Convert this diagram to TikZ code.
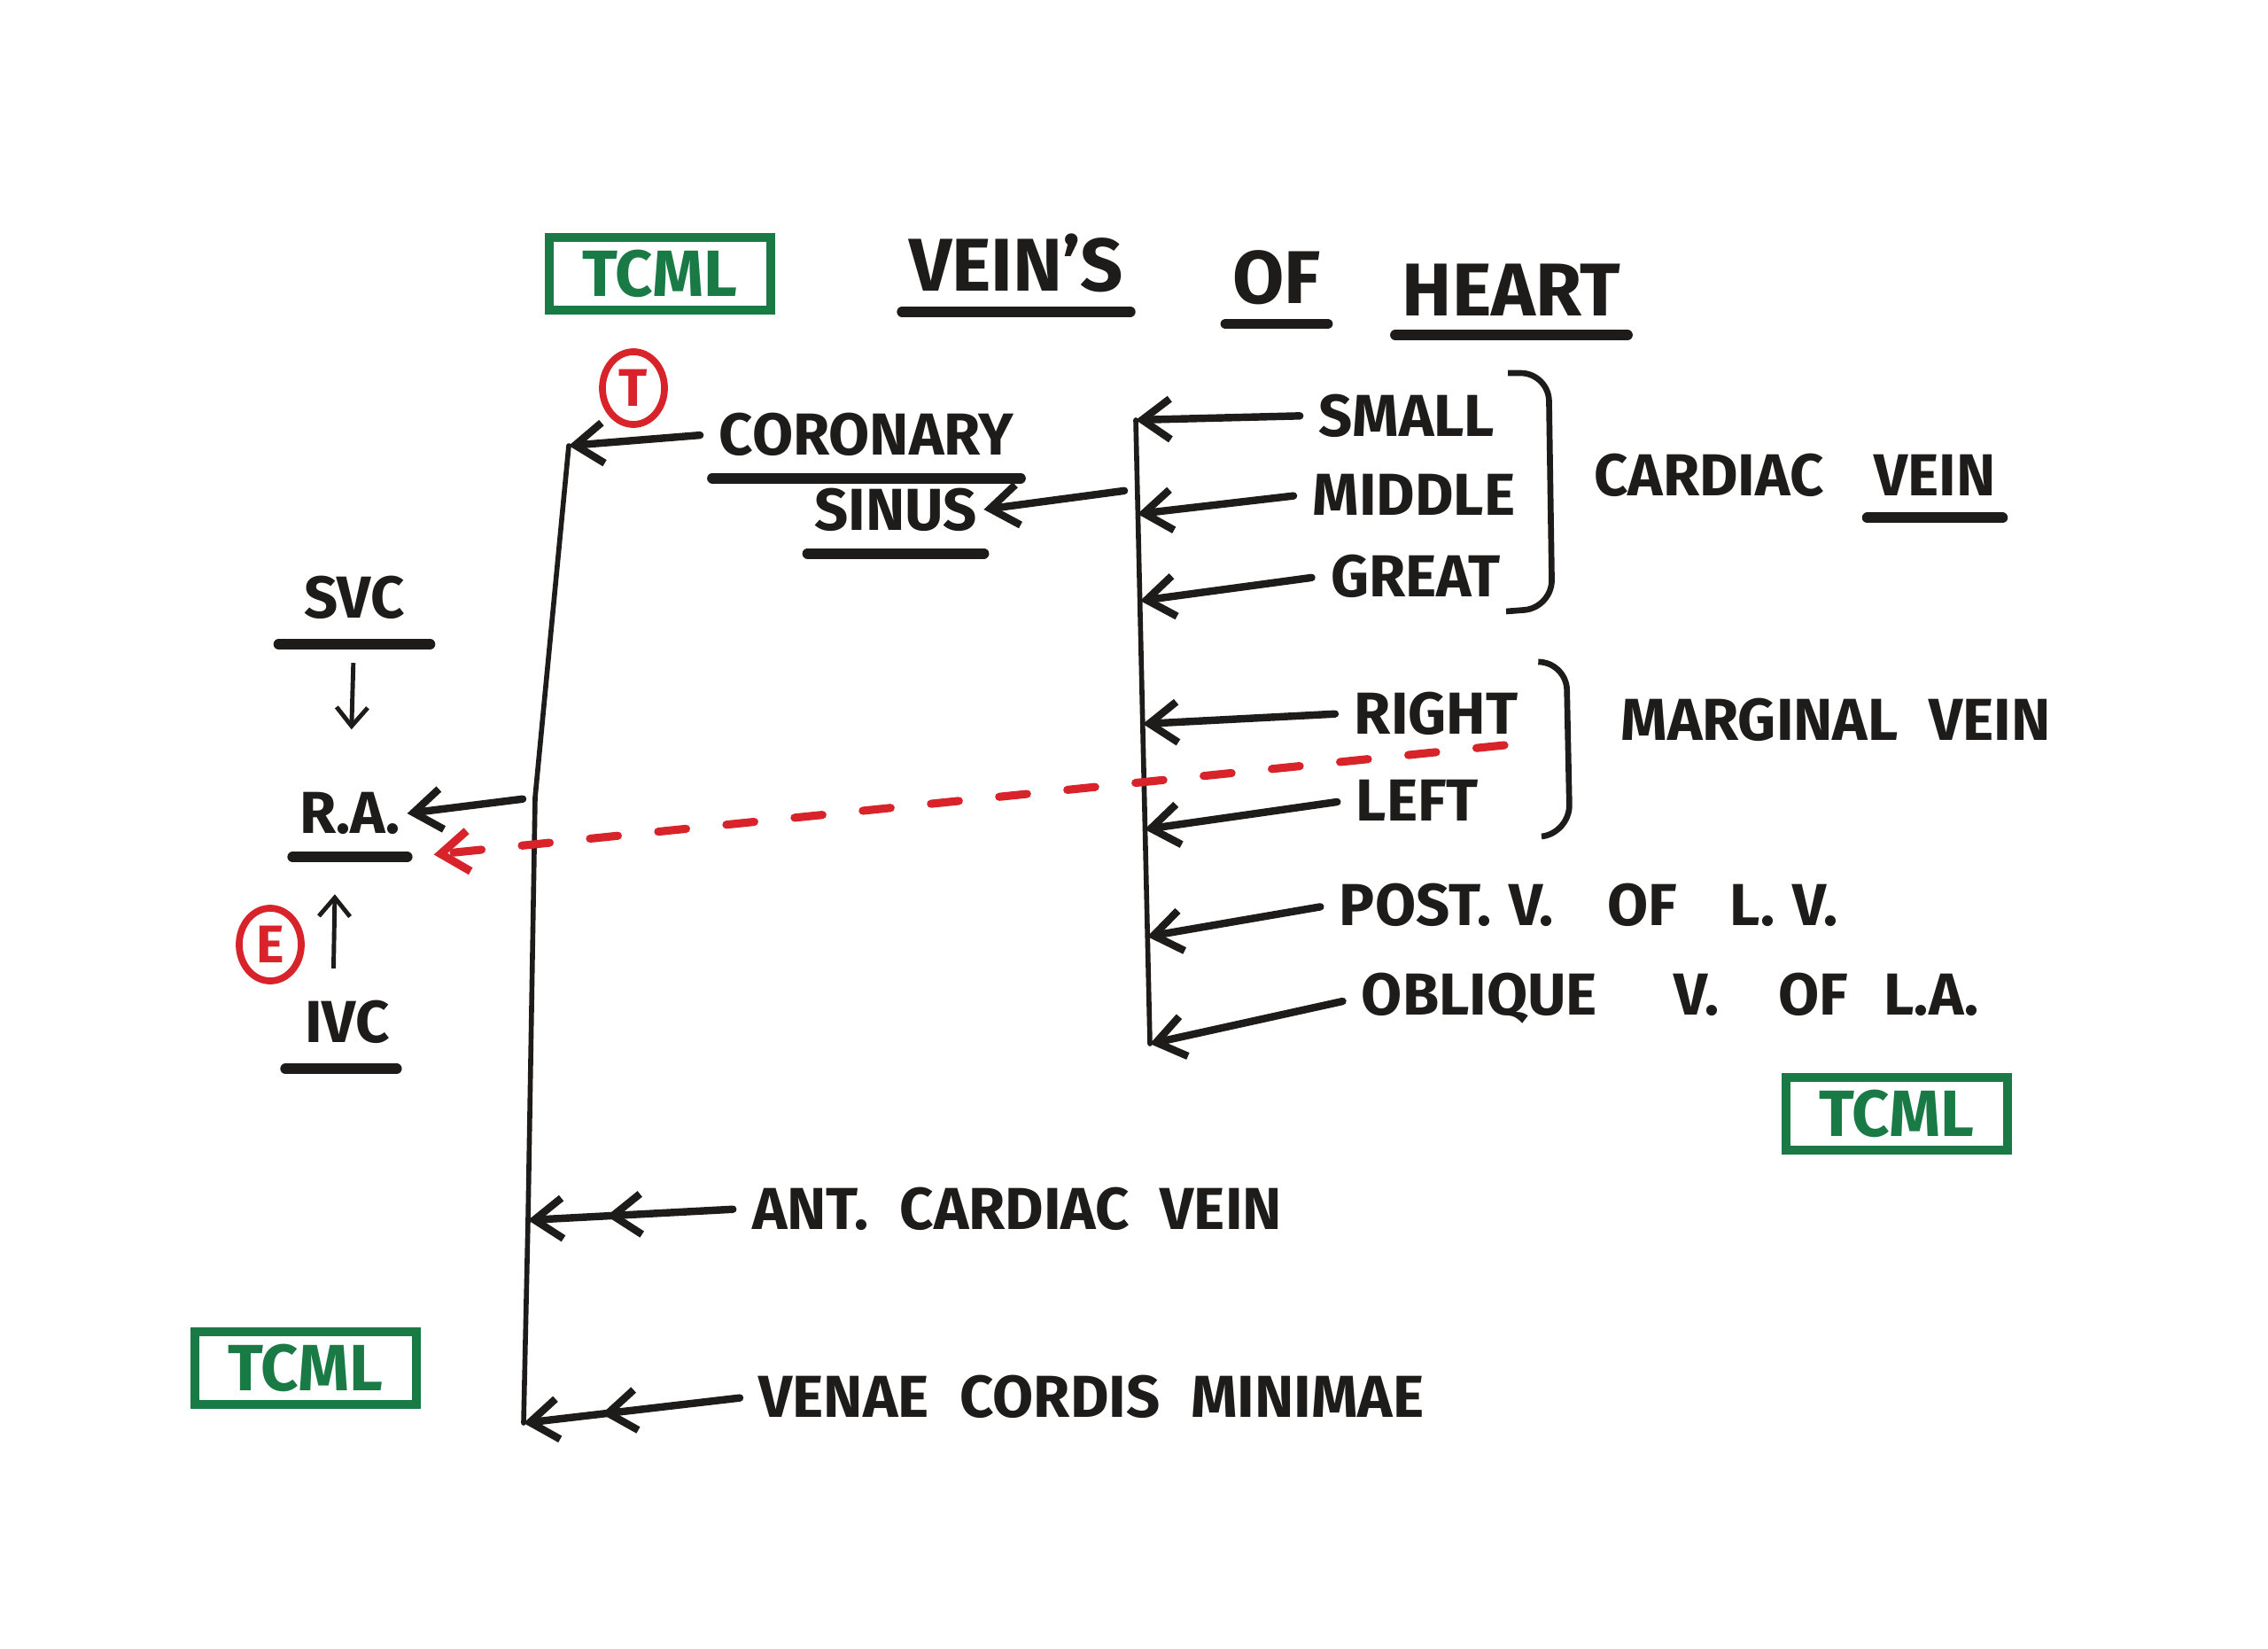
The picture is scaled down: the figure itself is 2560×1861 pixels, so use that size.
\documentclass[tikz,border=0pt]{standalone}
\usepackage{fontspec}
\setmainfont{Fira Sans}[WordSpace=2.2]
\usetikzlibrary{arrows.meta,shapes.geometric}
\definecolor{ink}{HTML}{1E1B1B}
\definecolor{tgreen}{HTML}{1A7A45}
\definecolor{tred}{HTML}{D8232A}

\begin{document}
\begin{tikzpicture}[x=0.01cm,y=-0.01cm,>={Straight Barb[length=9pt,width=13pt]},
  font=\fontsize{19}{23}\selectfont\bfseries,
  every node/.style={text=ink,inner sep=2pt},
  vein/.style={->,ink,line width=2.4pt,line cap=round,shorten <=4pt},
  dblvein/.style={ink,line width=2.4pt,line cap=round,shorten <=4pt,
    -{Straight Barb[length=9pt,width=13pt,sep=13pt]Straight Barb[length=9pt,width=13pt]}},
  trunk/.style={ink,line width=1.6pt,line cap=round},
  uline/.style={ink,line width=3.4pt,line cap=round},
  brk/.style={ink,line width=1.9pt,rounded corners=9pt},
  tcml/.style={draw=tgreen,line width=3pt,text=tgreen,minimum width=2.5cm,minimum height=0.82cm,
    font=\fontsize{21}{25}\selectfont\bfseries},
  ringed/.style={ellipse,draw=tred,line width=2.2pt,text=tred,inner sep=0pt,
    minimum width=0.7cm,minimum height=0.82cm,font=\fontsize{17}{20}\selectfont\bfseries},
  thinarr/.style={->,ink,line width=1.4pt,>={Straight Barb[length=6pt,width=10pt]}},
  reddash/.style={->,tred,line width=2.6pt,line cap=round,dash pattern=on 9pt off 13pt}]
  \useasboundingbox (0,0) rectangle (2560,1861);

  % title and stamps
  \node (veins) at (1147,297) {\fontsize{24}{29}\selectfont VEIN'S};
  \node (of) at (1441,313) {\fontsize{24}{29}\selectfont OF};
  \node (heart) at (1706,327) {\fontsize{24}{29}\selectfont HEART};
  \draw[uline] ([yshift=-4pt]veins.south west) -- ([yshift=-4pt]veins.south east);
  \draw[uline] ([yshift=-4pt]of.south west) -- ([yshift=-4pt]of.south east);
  \draw[uline] ([yshift=-4pt]heart.south west) -- ([yshift=-4pt]heart.south east);
  \node[tcml] (tcml1) at (745,309) {TCML};
  \node[tcml] (tcml2) at (2141,1257) {TCML};
  \node[tcml] (tcml3) at (345,1544) {TCML};

  % trunks
  \coordinate (lt) at (642,503);
  \coordinate (lra) at (604,900);
  \coordinate (lant) at (596,1377);
  \coordinate (lb) at (591,1606);
  \draw[trunk] (lt) -- (lra) -- (lant) -- (lb);
  \coordinate (rt) at (1282,474);
  \coordinate (rcs) at (1283,552);
  \coordinate (rmid) at (1284,580);
  \coordinate (rgreat) at (1287,678);
  \coordinate (rright) at (1290,817);
  \coordinate (rleft) at (1292,936);
  \coordinate (rpost) at (1295,1057);
  \coordinate (rb) at (1298,1178);
  \draw[trunk] (rt) -- (rb);

  % coronary sinus
  \node[ringed] (tmark) at (715,438) {T};
  \node (coronary) at (978,490) {CORONARY};
  \node (sinus) at (1011,575) {SINUS};
  \draw[uline] ([yshift=-5pt]coronary.south west) -- ([yshift=-5pt]coronary.south east);
  \draw[uline] ([yshift=-5pt]sinus.south west) -- ([yshift=-5pt]sinus.south east);
  \draw[vein] (coronary.west) -- (lt);
  \draw[vein] (rcs) -- (sinus.east);

  % tributaries
  \node (small) at (1588,469) {SMALL};
  \node (middle) at (1596,558) {MIDDLE};
  \node (great) at (1598,650) {GREAT};
  \draw[vein] (small.west) -- (rt);
  \draw[vein] (middle.west) -- (rmid);
  \draw[vein] (great.west) -- (rgreat);
  \draw[brk] (1702,421) -- (1748,421) -- (1752,686) -- (1700,690);
  \node (cardiac) at (1929,536) {CARDIAC};
  \node (cvein) at (2184,536) {VEIN};
  \draw[uline] ([yshift=-5pt]cvein.south west) -- ([yshift=-5pt]cvein.south east);

  \node (right) at (1621,805) {RIGHT};
  \node (left) at (1600,903) {LEFT};
  \draw[vein] (right.west) -- (rright);
  \draw[vein] (left.west) -- (rleft);
  \draw[brk] (1739,747) -- (1768,747) -- (1772,940) -- (1740,944);
  \node (marginal) at (2072,812) {MARGINAL VEIN};

  \node (post) at (1793,1021) {POST.\hspace{0.3em}V.\hspace{0.9em}OF\hspace{0.9em}L.\hspace{0.3em}V.};
  \node (oblique) at (1885,1127) {OBLIQUE\hspace{1.3em}V.\hspace{1em}OF\hspace{0.6em}L.A.};
  \draw[vein] (post.west) -- (rpost);
  \draw[vein] (oblique.west) -- (rb);

  % right atrium
  \node (svc) at (400,674) {SVC};
  \node (ra) at (395,918) {R.A.};
  \node (ivc) at (392,1153) {IVC};
  \draw[uline] ([yshift=-6pt,xshift=-6pt]svc.south west) -- ([yshift=-6pt,xshift=6pt]svc.south east);
  \draw[uline] ([yshift=-5pt]ra.south west) -- ([yshift=-5pt]ra.south east);
  \draw[uline] ([yshift=-6pt,xshift=-4pt]ivc.south west) -- ([yshift=-6pt]ivc.south east);
  \draw[thinarr,shorten <=12pt,shorten >=18pt] (svc.south) -- (ra.north);
  \draw[thinarr,shorten <=8pt,shorten >=17pt] ([xshift=-0.16cm]ivc.north) -- ([xshift=-0.16cm]ra.south);
  \node[ringed] (emark) at (305,1066) {E};
  \draw[vein] (lra) -- (ra.east);
  \coordinate (dashtail) at (1698,841);
  \draw[reddash] (dashtail) -- ([xshift=0.3cm,yshift=-0.15cm]ra.south east);

  % direct veins
  \node (ant) at (1148,1364) {ANT. CARDIAC VEIN};
  \node (venae) at (1232,1576) {VENAE CORDIS MINIMAE};
  \draw[dblvein] (ant.west) -- (lant);
  \draw[dblvein] (venae.west) -- (lb);
\end{tikzpicture}
\end{document}
